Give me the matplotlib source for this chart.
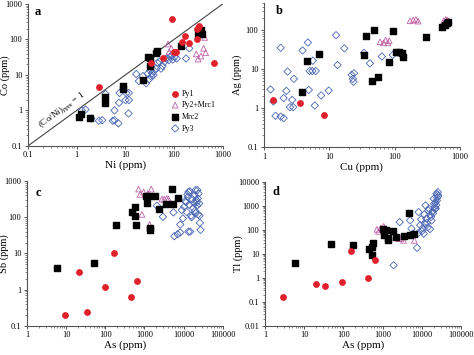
import matplotlib.pyplot as plt
from matplotlib.ticker import LogLocator, NullFormatter, FuncFormatter

plt.rcParams['font.family'] = ['Liberation Serif', 'DejaVu Serif']
plt.rcParams['mathtext.fontset'] = 'stix'

# colours for the four groups
c_py1 = '#e0202a'
c_py2 = '#c060a8'
c_mrc = 'black'
c_py3 = '#4a66b4'

# ---- panel a: Ni vs Co ----
a_py1_ni = [2.9, 34, 59, 91, 100, 112, 148, 170, 200, 295, 300, 310, 330, 660]
a_py1_co = [4.5, 21, 29.5, 370, 43, 43, 87, 126, 80, 100, 200, 215, 240, 21]
a_py2_ni = [75, 79, 88, 287, 312, 355, 405, 445, 380, 425]
a_py2_co = [74, 45, 56, 39, 28, 34, 56, 42, 148, 114]
a_mrc_ni = [1.11, 1.24, 1.84, 3.74, 3.9, 9.1, 9.1, 23.5, 29, 32, 32, 42, 45, 140, 307, 360, 380]
a_mrc_co = [0.66, 0.77, 0.63, 2.4, 1.57, 4.9, 3.9, 7.4, 31, 30, 18, 42, 46, 66, 148, 190, 140]
a_py3_ni = [1.28, 1.52, 1.99, 2.86, 3.35, 3.92, 5.5, 6.0, 6.0, 7.4, 7.6, 7.2, 10.1, 10.4,
            11.8, 11.8, 11.6, 16.7, 18.9, 22.9, 26.7, 29, 30.5, 32.5, 34.3, 35.5, 37.5,
            39, 43, 45.5, 50, 54, 58, 64, 69, 78, 83, 91, 94, 101, 113, 176, 205]
a_py3_co = [1.0, 1.06, 0.59, 0.51, 0.53, 2.9, 0.51, 0.53, 1.0, 1.64, 3.1, 0.43, 1.95, 3.1,
            3.1, 1.95, 0.82, 10.6, 6.7, 9.3, 5.8, 11, 7.5, 13, 8.9, 11, 9.9,
            13, 15, 22, 23.5, 15, 17.8, 23.5, 29, 26, 32.6, 36, 27, 32.6, 29, 29, 56]

# ---- panel b: Cu vs Ag ----
b_py1_cu = [1.39, 3.54, 8.4]
b_py1_ag = [1.62, 1.33, 0.67]
b_py2_cu = [60, 67.6, 73, 79, 83, 173, 194, 213, 230, 570, 610, 650, 687]
b_py2_ag = [50, 47, 55, 47, 53, 173, 180, 187, 170, 173, 187, 180, 170]
b_mrc_cu = [3.8, 4.5, 6.9, 33.5, 36, 49, 45, 55, 96, 83, 106, 118, 128, 133, 302, 543, 590, 626, 660]
b_mrc_ag = [2.65, 16, 24, 23.5, 70, 100, 5.0, 6.1, 94, 14.9, 27, 27, 26, 20, 65, 122, 134, 154, 163]
b_py3_cu = [1.26, 1.39, 1.5, 1.8, 1.8, 2.0, 2.0, 2.2, 2.3, 2.5, 2.7, 2.8, 2.87, 3.9,
            4.7, 5.0, 4.85, 5.5, 5.6, 6.0, 6.2, 7.5, 9.8, 12.7, 13.4, 17, 22, 23,
            23.5, 24, 34, 42, 64, 94]
b_py3_ag = [3.0, 1.47, 0.63, 35, 0.6, 0.55, 1.8, 2.75, 8.6, 1.05, 1.62, 1.05, 5.6, 30,
            48, 8.9, 2.9, 8.9, 16.4, 1.16, 8.9, 2.1, 2.8, 74, 12.7, 34, 7.1, 5.6,
            4.7, 7.8, 26, 14, 21, 23]

# ---- panel c: As vs Sb ----
c_py1_as = [9.1, 21.6, 35, 96, 166, 440, 640]
c_py1_sb = [0.2, 3.05, 0.24, 1.15, 10.2, 0.62, 1.72]
c_py2_as = [706, 775, 860, 1220, 1490, 1350, 2780, 3200, 3700, 4100, 950]
c_py2_sb = [600, 428, 120, 456, 600, 63, 318, 318, 330, 318, 500]
c_mrc_as = [5.8, 52, 186, 486, 558, 580, 600, 1086, 1150, 1270, 1880, 1350, 1400,
            2290, 3580, 5100, 5500, 6980]
c_mrc_sb = [4.0, 5.6, 61, 136, 195, 110, 63, 393, 241, 393, 385, 44, 51,
            165, 226, 600, 226, 346]
c_py3_as = [2070, 2950, 5500, 5800, 7000, 8200, 8200, 9000, 9600, 10300, 11500, 12000,
            12500, 13300, 13300, 14000, 14700, 15500, 16500, 17500, 18500, 19000,
            20000, 20500, 21000, 22000, 22500, 23500, 24000, 25000, 26000, 27000,
            12800, 16000, 19500, 23000, 25500, 11000, 14500, 21500]
c_py3_sb = [208, 103, 136, 30, 34, 38, 63, 158, 93, 195, 260, 140, 430,
            500, 40, 220, 40, 110, 320, 180, 250, 400, 560, 130, 300,
            210, 560, 120, 450, 240, 70, 45, 360, 100, 150, 330, 110, 280, 520, 260]

# ---- panel d: As vs Tl ----
d_py1_as = [2.9, 20, 34, 93, 158, 429, 622]
d_py1_tl = [0.16, 0.56, 0.45, 0.68, 13.8, 1.03, 5.8]
d_py2_as = [713, 780, 900, 1060, 1200, 2550, 2900, 3400, 6400]
d_py2_tl = [107, 88, 121, 142, 97, 44, 44, 37, 37]
d_mrc_as = [5.8, 49, 174, 455, 520, 550, 540, 1015, 1050, 1230, 1340, 1370, 1830,
            2200, 3430, 4790, 5100, 6420]
d_mrc_tl = [4.2, 27, 23, 16, 19.6, 30, 9.4, 114, 64, 103, 48, 37, 88,
            51, 56, 527, 60, 70]
d_py3_as = [1900, 2710, 5000, 5400, 6000, 7500, 8200, 9000, 10000, 11100, 12300, 13000,
            15000, 14000, 16500, 17500, 18500, 20000, 21000, 22000, 23400, 24000,
            25400, 26000, 9500, 12000, 16000, 19000, 21500, 23000, 24500, 8000,
            11500, 13500, 17000, 20500, 22500, 25000, 10500, 14500]
d_py3_tl = [3.4, 215, 253, 114, 70, 18, 560, 160, 90, 70, 1070, 300,
            780, 130, 420, 250, 600, 2020, 900, 1400, 3260, 1700,
            3830, 2600, 280, 180, 110, 500, 750, 1100, 2200, 75,
            450, 200, 350, 1250, 800, 3000, 120, 650]


def fmt(v, pos):
    if v >= 1:
        return '%d' % round(v)
    return ('%g' % v)


def style_ax(ax, xlim, ylim):
    ax.set_xscale('log')
    ax.set_yscale('log')
    ax.set_xlim(*xlim)
    ax.set_ylim(*ylim)
    for s in ['top', 'right']:
        ax.spines[s].set_visible(False)
    for s in ['left', 'bottom']:
        ax.spines[s].set_linewidth(0.8)
        ax.spines[s].set_color('#555555')
    ax.xaxis.set_major_locator(LogLocator(base=10, numticks=12))
    ax.yaxis.set_major_locator(LogLocator(base=10, numticks=12))
    ax.xaxis.set_minor_locator(LogLocator(base=10, subs=range(2, 10), numticks=12))
    ax.yaxis.set_minor_locator(LogLocator(base=10, subs=range(2, 10), numticks=12))
    ax.xaxis.set_minor_formatter(NullFormatter())
    ax.yaxis.set_minor_formatter(NullFormatter())
    ax.xaxis.set_major_formatter(FuncFormatter(fmt))
    ax.yaxis.set_major_formatter(FuncFormatter(fmt))
    ax.tick_params(which='major', labelsize=6, length=2.5, width=0.7, pad=1.5, color='#555555')
    ax.tick_params(which='minor', length=1.3, width=0.5, color='#555555')


def scatter_groups(ax, py1, py2, mrc, py3):
    ax.scatter(py3[0], py3[1], marker='D', s=14, facecolors='none', edgecolors=c_py3,
               linewidths=0.6, label='Py3', zorder=2)
    ax.scatter(py2[0], py2[1], marker='^', s=17, facecolors='none', edgecolors=c_py2,
               linewidths=0.6, label='Py2+Mrc1', zorder=3)
    ax.scatter(mrc[0], mrc[1], marker='s', s=14, color=c_mrc, label='Mrc2', zorder=4)
    ax.scatter(py1[0], py1[1], marker='o', s=15, color=c_py1, label='Py1', zorder=5)


def labels(ax, xl, yl, ylx):
    ax.set_xlabel(xl, fontsize=8, labelpad=1)
    ax.set_ylabel(yl, fontsize=7.5)
    ax.yaxis.set_label_coords(ylx, 0.5)


fig = plt.figure(figsize=(4.74, 3.55), dpi=100)

ax_a = fig.add_axes([0.059, 0.589, 0.411, 0.400])
ax_b = fig.add_axes([0.557, 0.586, 0.413, 0.406])
ax_c = fig.add_axes([0.057, 0.082, 0.413, 0.408])
ax_d = fig.add_axes([0.559, 0.082, 0.414, 0.405])

# panel a
style_ax(ax_a, (0.1, 1000), (0.1, 1000))
ax_a.plot([0.1, 1000], [0.1, 1000], color='#444444', lw=0.8, zorder=1)
scatter_groups(ax_a, (a_py1_ni, a_py1_co), (a_py2_ni, a_py2_co),
               (a_mrc_ni, a_mrc_co), (a_py3_ni, a_py3_co))
ax_a.text(0.5, 1.0, r'(Co/Ni)$_{ppm}$ = 1', rotation=36, fontsize=6.5,
          ha='center', va='center')
labels(ax_a, 'Ni (ppm)', 'Co (ppm)', -0.09)
h, l = ax_a.get_legend_handles_labels()
order = [3, 1, 2, 0]
ax_a.legend([h[i] for i in order], [l[i] for i in order], loc='lower right',
            bbox_to_anchor=(0.99, 0.06), frameon=False, fontsize=5.8,
            handletextpad=0.1, labelspacing=0.45, borderaxespad=0.2,
            handlelength=1.5)

# panel b
style_ax(ax_b, (1, 1000), (0.1, 500))
scatter_groups(ax_b, (b_py1_cu, b_py1_ag), (b_py2_cu, b_py2_ag),
               (b_mrc_cu, b_mrc_ag), (b_py3_cu, b_py3_ag))
labels(ax_b, 'Cu (ppm)', 'Ag (ppm)', -0.11)

# panel c
style_ax(ax_c, (1, 100000), (0.1, 1000))
scatter_groups(ax_c, (c_py1_as, c_py1_sb), (c_py2_as, c_py2_sb),
               (c_mrc_as, c_mrc_sb), (c_py3_as, c_py3_sb))
labels(ax_c, 'As (ppm)', 'Sb (ppm)', -0.09)

# panel d
style_ax(ax_d, (1, 100000), (0.01, 10000))
scatter_groups(ax_d, (d_py1_as, d_py1_tl), (d_py2_as, d_py2_tl),
               (d_mrc_as, d_mrc_tl), (d_py3_as, d_py3_tl))
labels(ax_d, 'As (ppm)', 'Tl (ppm)', -0.11)

letter_pos = [(0.05, 0.94), (0.08, 0.94), (0.056, 0.92), (0.056, 0.93)]
for ax, letter, (lx, ly) in zip([ax_a, ax_b, ax_c, ax_d], 'abcd', letter_pos):
    ax.text(lx, ly, letter, transform=ax.transAxes, fontsize=9,
            fontweight='bold', ha='center', va='center')

fig.savefig('out.png', dpi=100)
